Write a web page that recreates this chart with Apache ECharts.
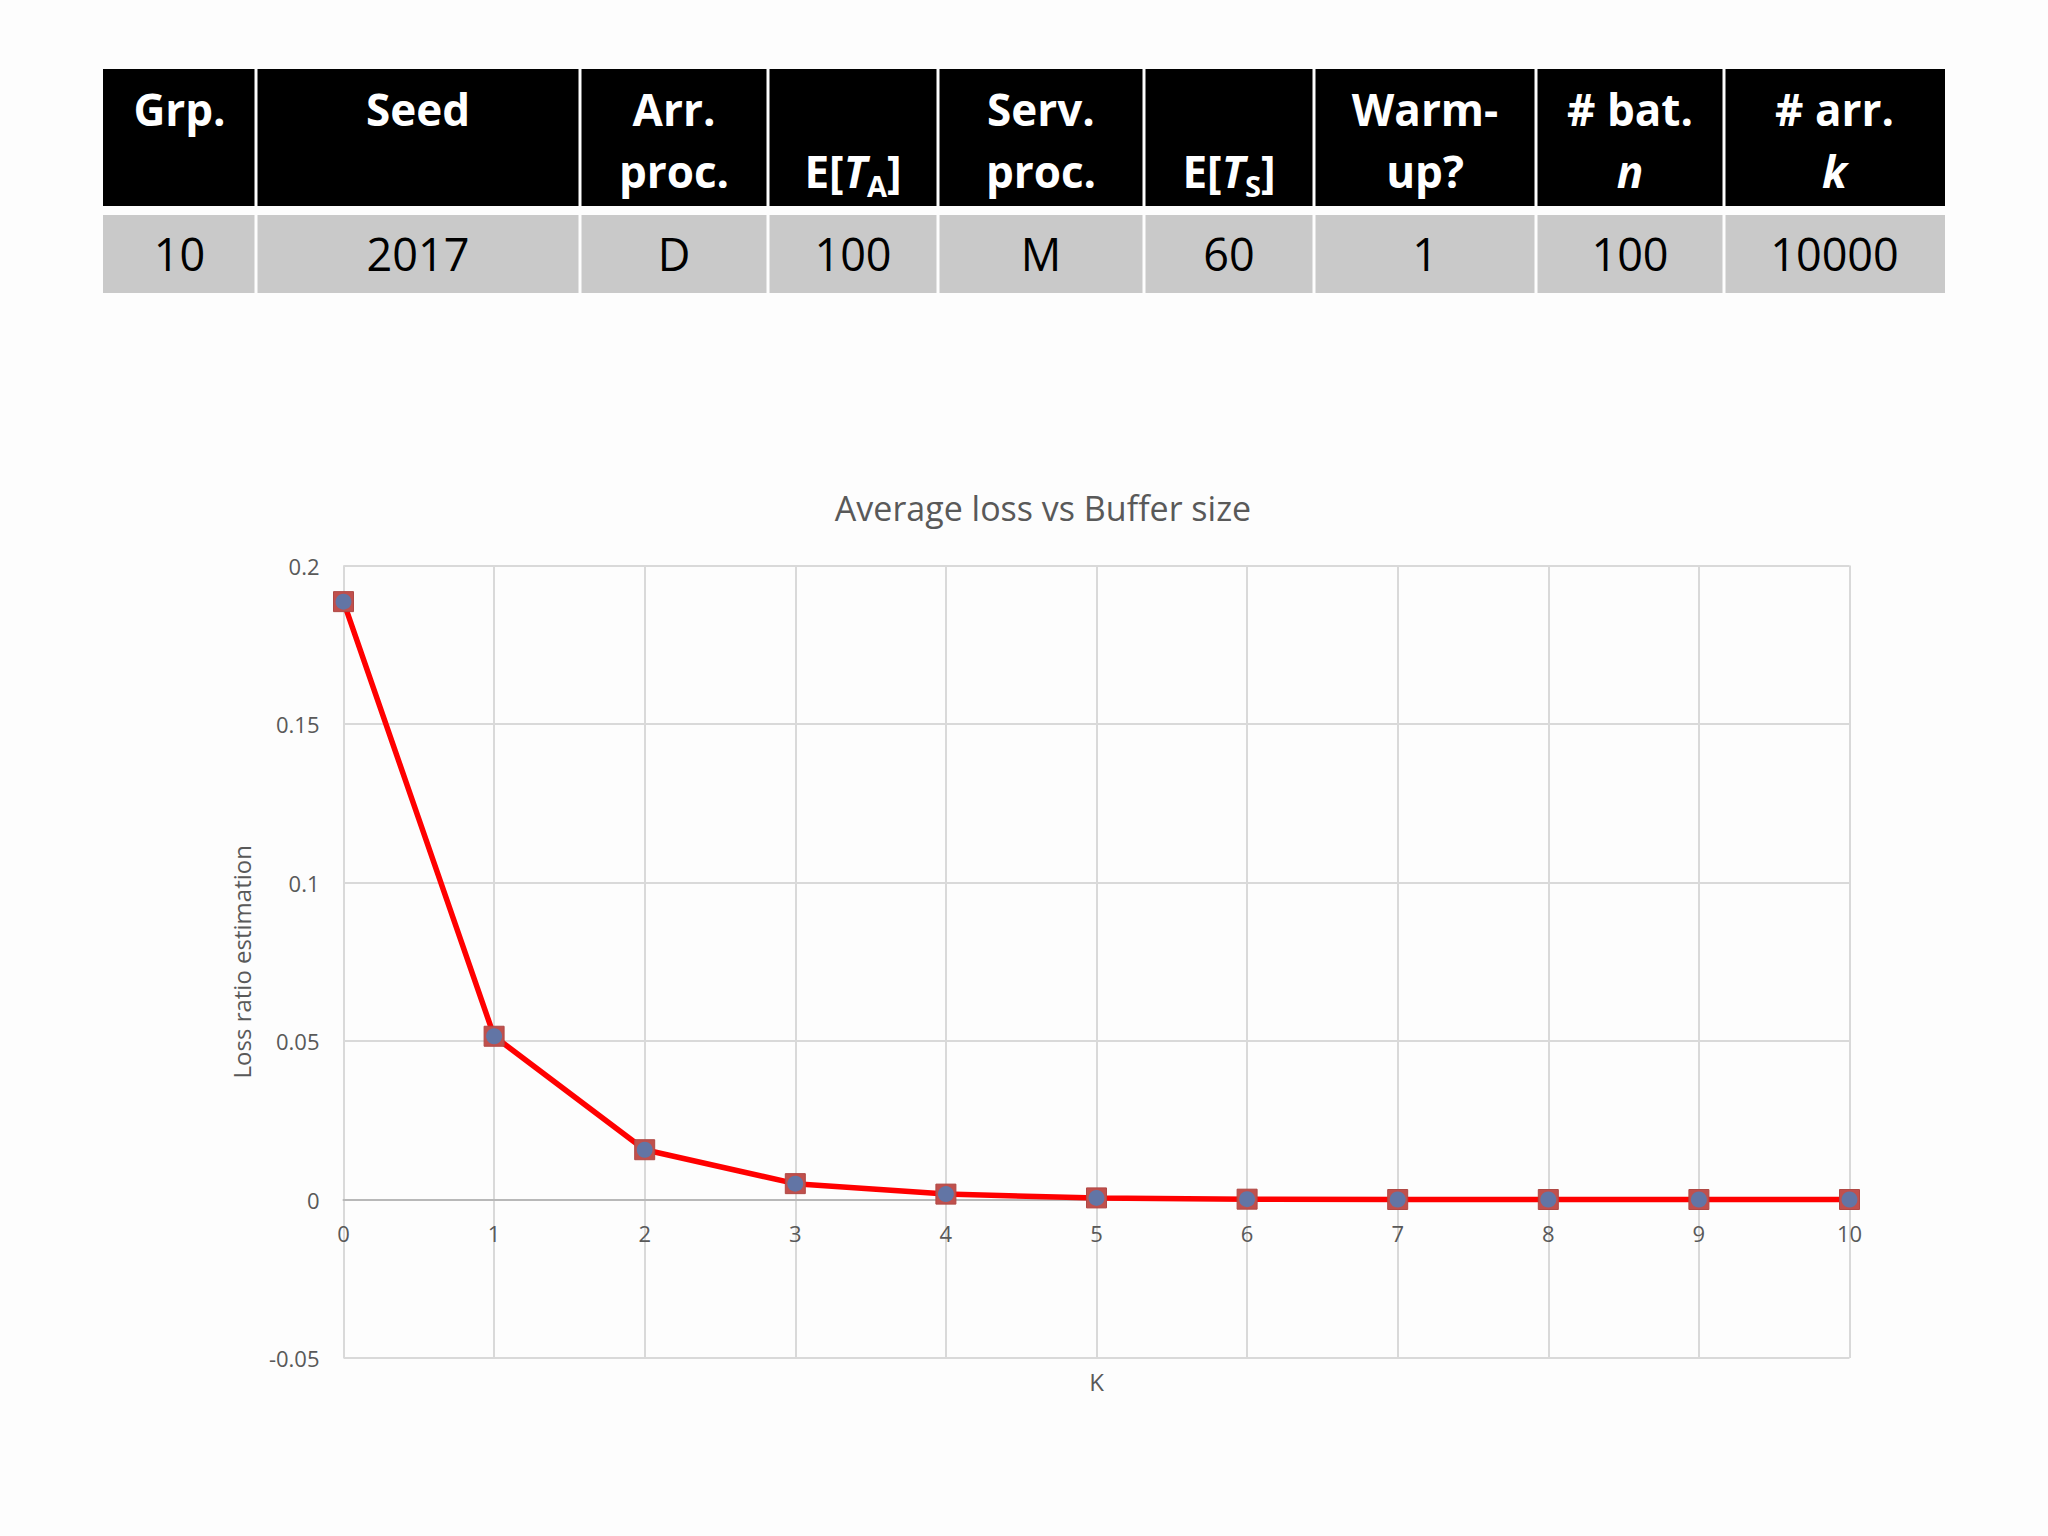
<!DOCTYPE html>
<html>
<head>
<meta charset="utf-8">
<script src="https://cdn.jsdelivr.net/npm/echarts@6/dist/echarts.min.js"></script>
<style>
html,body{margin:0;padding:0;background:#fdfdfd;}
#chart{width:2048px;height:1536px;}
</style>
</head>
<body>
<div id="chart"></div>
<script>
// ---- data ----
const headerTop = ['Grp.', 'Seed', 'Arr.', '', 'Serv.', '', 'Warm-', '# bat.', '# arr.'];
const headerBottom = ['', '', 'proc.', 'E[T_A]', 'proc.', 'E[T_S]', 'up?', 'n', 'k'];
const rowValues = ['10', '2017', 'D', '100', 'M', '60', '1', '100', '10000'];
const bufferSize = [0, 1, 2, 3, 4, 5, 6, 7, 8, 9, 10];
const lossRatio = [0.1886, 0.0515, 0.0157, 0.0050, 0.0017, 0.0005, 0.0001, 0, 0, 0, 0];
const yMin = -0.05, yMax = 0.2, yStep = 0.05;
const xMin = 0, xMax = 10, xStep = 1;
const chartTitle = 'Average loss vs Buffer size';
const xName = 'K';
const yName = 'Loss ratio estimation';

// ---- layout ----
const FONT = '"Open Sans", "Noto Sans", sans-serif';
const colEdges = [103, 256, 580, 768, 938, 1144, 1314, 1536, 1724, 1945];
const headY0 = 69, headY1 = 206, rowY0 = 215, rowY1 = 293;
const gridBox = {left: 343.5, right: 198.5, top: 565.5, bottom: 178};
const plotHeight = 1536 - gridBox.top - gridBox.bottom;
// place the x axis where y = 0 crosses (distance measured up from the plot bottom)
const zeroOffset = -plotHeight * (0 - yMin) / (yMax - yMin);

function headerRich(t) {
  const m = /^E\[T_(\w)\]$/.exec(t);
  if (m) return '{b|E[}{bi|T}{sub|' + m[1] + '}{b|]}';
  if (t === 'n' || t === 'k') return '{bi|' + t + '}';
  return t ? '{b|' + t + '}' : '';
}
const richStyles = {
  b: {fontFamily: FONT, fontSize: 44, fontWeight: 'bold', fill: '#fff', color: '#fff', lineHeight: 58},
  bi: {fontFamily: FONT, fontSize: 44, fontWeight: 'bold', fontStyle: 'italic', fill: '#fff', color: '#fff', lineHeight: 58},
  sub: {fontFamily: FONT, fontSize: 29, fontWeight: 'bold', fill: '#fff', color: '#fff', lineHeight: 31, verticalAlign: 'bottom'}
};

const graphics = [];
for (let i = 0; i < rowValues.length; i++) {
  const x0 = colEdges[i] + (i === 0 ? 0 : 1.5);
  const x1 = colEdges[i + 1] - (i === rowValues.length - 1 ? 0 : 1.5);
  const cx = (colEdges[i] + colEdges[i + 1]) / 2;
  graphics.push({type: 'rect', shape: {x: x0, y: headY0, width: x1 - x0, height: headY1 - headY0}, style: {fill: '#000'}, silent: true});
  graphics.push({type: 'rect', shape: {x: x0, y: rowY0, width: x1 - x0, height: rowY1 - rowY0}, style: {fill: '#c9c9c9'}, silent: true});
  if (headerTop[i]) graphics.push({type: 'text', x: cx, y: 109, z: 10, silent: true,
    style: {text: headerRich(headerTop[i]), rich: richStyles, align: 'center', verticalAlign: 'middle', textAlign: 'center', textVerticalAlign: 'middle'}});
  if (headerBottom[i]) graphics.push({type: 'text', x: cx, y: 171, z: 10, silent: true,
    style: {text: headerRich(headerBottom[i]), rich: richStyles, align: 'center', verticalAlign: 'middle', textAlign: 'center', textVerticalAlign: 'middle'}});
  graphics.push({type: 'text', x: cx, y: 253, z: 10, silent: true,
    style: {text: rowValues[i], fill: '#000', font: '45px ' + FONT, align: 'center', verticalAlign: 'middle', textAlign: 'center', textVerticalAlign: 'middle'}});
}

const points = bufferSize.map((k, i) => [k, lossRatio[i]]);

const chart = echarts.init(document.getElementById('chart'), null, {renderer: 'svg'});
chart.setOption({
  animation: false,
  backgroundColor: '#fdfdfd',
  textStyle: {fontFamily: FONT},
  title: {
    text: chartTitle, left: 1038, top: 486, textAlign: 'center',
    textStyle: {fontFamily: FONT, fontSize: 34, fontWeight: 'normal', color: '#595959'}
  },
  graphic: graphics,
  grid: Object.assign({containLabel: false, outerBoundsMode: 'none'}, gridBox),
  xAxis: [{
    type: 'value', min: xMin, max: xMax, interval: xStep,
    position: 'bottom', offset: zeroOffset,
    name: xName, nameLocation: 'middle', nameGap: 170,
    nameTextStyle: {fontFamily: FONT, fontSize: 24, color: '#595959'},
    axisLine: {show: true, onZero: false, lineStyle: {color: '#b8b8b8', width: 2}},
    axisTick: {show: false},
    axisLabel: {fontFamily: FONT, fontSize: 22, color: '#595959', margin: 22},
    splitLine: {show: true, lineStyle: {color: '#d9d9d9', width: 2}},
    z: 2
  }],
  yAxis: {
    type: 'value', min: yMin, max: yMax, interval: yStep,
    name: yName, nameLocation: 'middle', nameGap: 90, nameRotate: 90,
    nameTextStyle: {fontFamily: FONT, fontSize: 24, color: '#595959'},
    axisLine: {show: false, onZero: false},
    axisTick: {show: false},
    axisLabel: {fontFamily: FONT, fontSize: 22, color: '#595959', margin: 24},
    splitLine: {show: true, lineStyle: {color: '#d9d9d9', width: 2}}
  },
  series: [
    {
      type: 'line', data: points, symbol: 'rect', symbolSize: 20,
      lineStyle: {color: '#ff0000', width: 5.5},
      itemStyle: {color: '#c0504d', borderColor: '#b04844', borderWidth: 1},
      z: 3
    },
    {
      type: 'scatter', data: points, symbol: 'circle', symbolSize: 16,
      itemStyle: {color: '#4a7ebb'},
      z: 4
    }
  ]
});
</script>
</body>
</html>
